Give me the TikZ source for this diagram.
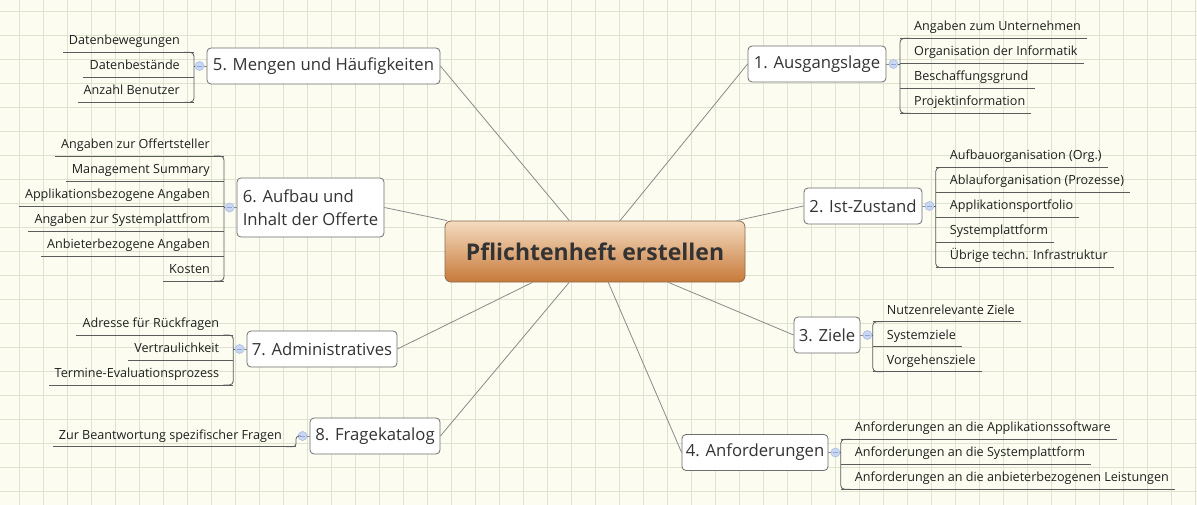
\documentclass[tikz,border=0pt]{standalone}
\usepackage{fontspec}
\setmainfont{Open Sans}
\usetikzlibrary{calc}
\definecolor{bgc}{HTML}{FCFDF0}
\definecolor{gridc}{HTML}{DDE3CE}
\definecolor{linec}{HTML}{8A8A8A}
\definecolor{ulc}{HTML}{5C5C5C}
\definecolor{boxc}{HTML}{6E6E6E}
\definecolor{txtc}{HTML}{333333}
\definecolor{knobfill}{HTML}{CAD7F3}
\definecolor{knobdraw}{HTML}{A9BDE6}
\definecolor{knobminus}{HTML}{8DA6DC}
\definecolor{ctop}{HTML}{F4DCC0}
\definecolor{cbot}{HTML}{C8793A}
\definecolor{cdraw}{HTML}{8C6A4E}
\tikzset{
 topic/.style={draw=boxc, line width=0.8pt, fill=white, rounded corners=4pt, minimum height=36pt, inner sep=0pt, text=txtc, font=\fontsize{16.7}{23.3}\selectfont},
 central/.style={draw=cdraw, line width=0.8pt, rounded corners=6pt, top color=ctop, bottom color=cbot, minimum width=300pt, minimum height=61pt, inner sep=0pt, text=txtc, font=\bfseries\fontsize{23}{27}\selectfont},
 conn/.style={draw=linec, line width=0.8pt},
 branch/.style={draw=ulc, line width=0.8pt},
 kid/.style={inner sep=0pt, text=black!88, font=\fontsize{12.6}{15}\selectfont},
 knob/.style={circle, draw=knobdraw, fill=knobfill, minimum size=9pt, inner sep=0pt, line width=0.6pt,
   path picture={\draw[knobminus, line width=0.7pt] ($(path picture bounding box.center)+(-2.2,0)$) -- ($(path picture bounding box.center)+(2.2,0)$);}},
}
% right-hand children: #1 prefix, #2 bracket x, #3 first underline y, #4 last underline y, #5 texts
\newcommand{\rkids}[5]{%
  \foreach \t [count=\i] in {#5} {
    \pgfmathsetmacro{\uy}{#3+25*(\i-1)}
    \node[kid, anchor=base west] (#1\i) at (#2+14, \uy-7.5) {\t};
    \draw[branch] (#2,\uy) -- ($(#1\i.base east)+(6,7.5)$);
  }
  \draw[branch, rounded corners=4pt] (#2+10,#3) -- (#2,#3) -- (#2,#4) -- (#2+10,#4);
}
% left-hand children
\newcommand{\lkids}[5]{%
  \foreach \t [count=\i] in {#5} {
    \pgfmathsetmacro{\uy}{#3+25*(\i-1)}
    \node[kid, anchor=base east] (#1\i) at (#2-14, \uy-7.5) {\t};
    \draw[branch] (#2,\uy) -- ($(#1\i.base west)+(-6,7.5)$);
  }
  \draw[branch, rounded corners=4pt] (#2-10,#3) -- (#2,#3) -- (#2,#4) -- (#2-10,#4);
}
\begin{document}
\begin{tikzpicture}[x=1pt,y=-1pt]
\useasboundingbox (0,0) rectangle (1197,505);
\fill[bgc] (0,0) rectangle (1197,505);
\foreach \x in {19.5,43.5,...,1197} \draw[gridc, line width=0.7pt] (\x,0) -- (\x,505);
\foreach \y in {11,35,...,505} \draw[gridc, line width=0.7pt] (0,\y) -- (1197,\y);

% central
\node[central] (c) at (595,251.5) {Pflichtenheft erstellen};

% main topics
\node[topic, minimum width=138pt] (t1) at (817,64) {1. Ausgangslage};
\node[topic, minimum width=118pt] (t2) at (863,206) {2. Ist-Zustand};
\node[topic, minimum width=66pt] (t3) at (827,335) {3. Ziele};
\node[topic, minimum width=146pt] (t4) at (755,452.5) {4. Anforderungen};
\node[topic, minimum width=233pt] (t5) at (323.5,66) {5. Mengen und Häufigkeiten};
\node[topic, minimum width=147pt, minimum height=59pt, align=left] (t6) at (310.5,207.5) {6. Aufbau und\\Inhalt der Offerte};
\node[topic, minimum width=150pt] (t7) at (322,349) {7. Administratives};
\node[topic, minimum width=130pt] (t8) at (375,436) {8. Fragekatalog};

% connectors from central
\foreach \k in {1,2,3,4} \draw[conn] (c) -- (t\k.west);
\foreach \k in {5,6,7,8} \draw[conn] (c) -- (t\k.east);

% knobs
\foreach \k in {1,2,3,4} {
  \node[knob] (k\k) at ($(t\k.east)+(7,0)$) {};
  \draw[conn] (t\k.east) -- (k\k.west);
}
\foreach \k in {5,6,7,8} {
  \node[knob] (k\k) at ($(t\k.west)+(-7,0)$) {};
  \draw[conn] (t\k.west) -- (k\k.east);
}

% brackets x
\coordinate (br1) at (900,0);
\coordinate (br2) at (935.7,0);
\coordinate (br3) at (872.7,0);
\coordinate (br4) at (840.7,0);
\coordinate (br5) at (194,0);
\coordinate (br6) at (224,0);
\coordinate (br7) at (233.3,0);
\coordinate (br8) at (296,446.7);

\foreach \k in {1,2,3,4} \draw[branch] (k\k.east) -- (k\k -| br\k);
\foreach \k in {5,6,7} \draw[branch] (k\k.west) -- (k\k -| br\k);
\draw[branch, rounded corners=3pt] (k8.west) -- (k8 -| br8) -- (br8) -- ++(-10,0);

\rkids{a}{900}{38.3}{113.3}{Angaben zum Unternehmen,Organisation der Informatik,Beschaffungsgrund,Projektinformation}
\rkids{b}{935.7}{167.5}{267.5}{Aufbauorganisation (Org.),Ablauforganisation (Prozesse),Applikationsportfolio,Systemplattform,Übrige techn. Infrastruktur}
\rkids{z}{872.7}{321.7}{371.7}{Nutzenrelevante Ziele,Systemziele,Vorgehensziele}
\rkids{f}{840.7}{439.3}{489.3}{Anforderungen an die Applikationssoftware,Anforderungen an die Systemplattform,Anforderungen an die anbieterbezogenen Leistungen}
\lkids{m}{194}{52.3}{102.3}{Datenbewegungen,Datenbestände,Anzahl Benutzer}
\lkids{o}{224}{156}{281}{Angaben zur Offertsteller,Management Summary,Applikationsbezogene Angaben,Angaben zur Systemplattfrom,Anbieterbezogene Angaben,Kosten}
\lkids{v}{233.3}{335}{385}{Adresse für Rückfragen,Vertraulichkeit,Termine-Evaluationsprozess}
\foreach \t [count=\i] in {Zur Beantwortung spezifischer Fragen} {
  \node[kid, anchor=base east] (q\i) at (282, 439.2) {\t};
  \draw[branch] (br8) -- ($(q\i.base west)+(-6,7.5)$);
}
\end{tikzpicture}
\end{document}
